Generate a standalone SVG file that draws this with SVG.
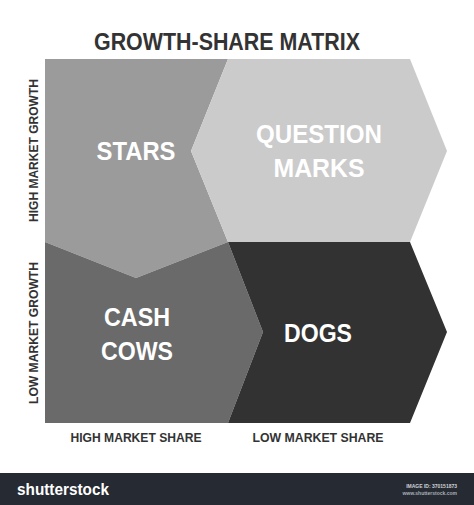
<svg xmlns="http://www.w3.org/2000/svg" width="474" height="505" viewBox="0 0 474 505">
<style>
text{font-family:"Liberation Sans",Arial,sans-serif;font-weight:bold}
.t{fill:#333333}
.n{fill:#ffffff;font-size:26px;text-anchor:middle}
.ax{fill:#333333;font-size:13.5px}
</style>
<rect width="474" height="505" fill="#ffffff"/>
<text class="t" x="227" y="50" font-size="23" text-anchor="middle" textLength="266" lengthAdjust="spacingAndGlyphs">GROWTH-SHARE MATRIX</text>
<g id="stars">
<polygon points="45,59 228,59 191,151 228,242 136,278 45,242" fill="#9b9b9b"/>
<text class="n" x="136" y="160" textLength="79" lengthAdjust="spacingAndGlyphs">STARS</text>
</g>
<g id="question-marks">
<polygon points="228,59 410,59 447,151 410,242 228,242 191,151" fill="#cbcbcb"/>
<text class="n" x="319" y="143" textLength="126" lengthAdjust="spacingAndGlyphs">QUESTION</text>
<text class="n" x="319" y="177" textLength="91" lengthAdjust="spacingAndGlyphs">MARKS</text>
</g>
<g id="cash-cows">
<polygon points="45,242 136,278 228,242 263,332 228,423 45,423" fill="#6a6a6a"/>
<text class="n" x="137" y="326" textLength="66" lengthAdjust="spacingAndGlyphs">CASH</text>
<text class="n" x="137" y="360" textLength="72" lengthAdjust="spacingAndGlyphs">COWS</text>
</g>
<g id="dogs">
<polygon points="228,242 410,242 447,332 410,423 228,423 263,332" fill="#323232"/>
<text class="n" x="318" y="342" textLength="68" lengthAdjust="spacingAndGlyphs">DOGS</text>
</g>
<g id="connectors"></g>
<g id="axis-labels">
<text class="ax" x="136" y="442" text-anchor="middle" textLength="131" lengthAdjust="spacingAndGlyphs">HIGH MARKET SHARE</text>
<text class="ax" x="318" y="442" text-anchor="middle" textLength="131" lengthAdjust="spacingAndGlyphs">LOW MARKET SHARE</text>
<text class="ax" transform="translate(38,150.5) rotate(-90)" text-anchor="middle" textLength="143" lengthAdjust="spacingAndGlyphs">HIGH MARKET GROWTH</text>
<text class="ax" transform="translate(38,333) rotate(-90)" text-anchor="middle" textLength="142" lengthAdjust="spacingAndGlyphs">LOW MARKET GROWTH</text>
</g>
<g id="footer">
<rect x="0" y="473" width="474" height="32" fill="#262a32"/>
<text x="17" y="495" fill="#ffffff" font-size="17" textLength="92" lengthAdjust="spacingAndGlyphs">shutterstock</text>
<text x="457" y="488" fill="#cfd2d6" font-size="5" font-weight="normal" text-anchor="end">IMAGE ID: 370151873</text>
<text x="457" y="495" fill="#aab0b8" font-size="5" font-weight="normal" text-anchor="end">www.shutterstock.com</text>
</g>
</svg>
